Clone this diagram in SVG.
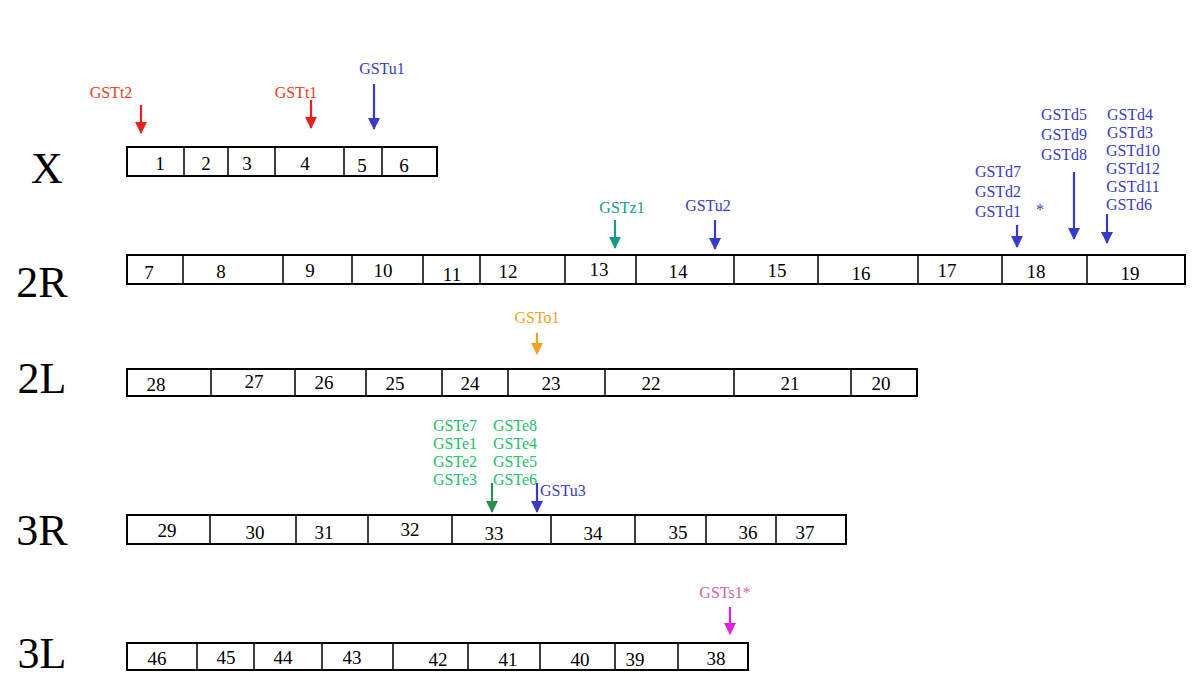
<svg xmlns="http://www.w3.org/2000/svg" width="1200" height="680" viewBox="0 0 1200 680">
<style>
text{font-family:"Liberation Serif","Times New Roman",serif}
.box{fill:#fff;stroke:#000;stroke-width:2}
.dv{stroke:#000;stroke-width:1.5}
.n{font-size:19px;text-anchor:middle}
.row{font-size:44px;text-anchor:middle}
.l{font-size:16px;text-anchor:middle}
.a{stroke-width:2.2;fill:none}
</style>
<defs>
<marker id="m" markerWidth="8" markerHeight="8" refX="5" refY="4" orient="auto" markerUnits="userSpaceOnUse" viewBox="0 0 8 8"><path d="M0,0 L10,4 L0,8 Z" fill="context-stroke"/></marker>
<marker id="mr" markerWidth="12" markerHeight="12" refX="11" refY="6" orient="auto" markerUnits="userSpaceOnUse"><path d="M0,0 L12,6 L0,12 Z" fill="#e82020"/></marker>
<marker id="mb" markerWidth="12" markerHeight="12" refX="11" refY="6" orient="auto" markerUnits="userSpaceOnUse"><path d="M0,0 L12,6 L0,12 Z" fill="#3a3ac8"/></marker>
<marker id="mt" markerWidth="12" markerHeight="12" refX="11" refY="6" orient="auto" markerUnits="userSpaceOnUse"><path d="M0,0 L12,6 L0,12 Z" fill="#129a8e"/></marker>
<marker id="mo" markerWidth="12" markerHeight="12" refX="11" refY="6" orient="auto" markerUnits="userSpaceOnUse"><path d="M0,0 L12,6 L0,12 Z" fill="#f5a020"/></marker>
<marker id="mg" markerWidth="12" markerHeight="12" refX="11" refY="6" orient="auto" markerUnits="userSpaceOnUse"><path d="M0,0 L12,6 L0,12 Z" fill="#2e8b57"/></marker>
<marker id="mp" markerWidth="12" markerHeight="12" refX="11" refY="6" orient="auto" markerUnits="userSpaceOnUse"><path d="M0,0 L12,6 L0,12 Z" fill="#e020e0"/></marker>
</defs>

<g id="row-X">
<text class="row" x="47" y="183">X</text>
<rect class="box" x="127" y="147" width="310" height="29"/>
<path class="dv" d="M184,147V176M228,147V176M275,147V176M344,147V176M382,147V176"/>
<g class="n"><text x="160" y="170">1</text><text x="206" y="170">2</text><text x="247" y="170">3</text><text x="305" y="170">4</text><text x="362" y="172">5</text><text x="404" y="172">6</text></g>
</g>

<g id="row-2R">
<text class="row" x="42" y="297">2R</text>
<rect class="box" x="127" y="255" width="1058" height="29"/>
<path class="dv" d="M183,255V284M283,255V284M352,255V284M423,255V284M480,255V284M565,255V284M636,255V284M734,255V284M818,255V284M918,255V284M1002,255V284M1087,255V284"/>
<g class="n"><text x="149" y="279">7</text><text x="221" y="278">8</text><text x="310" y="277">9</text><text x="383" y="277">10</text><text x="452" y="281">11</text><text x="508" y="278">12</text><text x="599" y="276">13</text><text x="678" y="278">14</text><text x="777" y="277">15</text><text x="861" y="280">16</text><text x="947" y="277">17</text><text x="1036" y="278">18</text><text x="1130" y="280">19</text></g>
</g>

<g id="row-2L">
<text class="row" x="42" y="393">2L</text>
<rect class="box" x="127" y="369" width="790" height="27"/>
<path class="dv" d="M211,369V396M295,369V396M366,369V396M442,369V396M508,369V396M605,369V396M734,369V396M851,369V396"/>
<g class="n"><text x="156" y="391">28</text><text x="254" y="388">27</text><text x="324" y="389">26</text><text x="395" y="390">25</text><text x="470" y="390">24</text><text x="551" y="390">23</text><text x="651" y="390">22</text><text x="790" y="390">21</text><text x="881" y="390">20</text></g>
</g>

<g id="row-3R">
<text class="row" x="42" y="545">3R</text>
<rect class="box" x="127" y="515" width="719" height="29"/>
<path class="dv" d="M210,515V544M296,515V544M368,515V544M452,515V544M551,515V544M635,515V544M706,515V544M776,515V544"/>
<g class="n"><text x="167" y="537">29</text><text x="255" y="539">30</text><text x="324" y="539">31</text><text x="410" y="536">32</text><text x="494" y="540">33</text><text x="593" y="540">34</text><text x="678" y="539">35</text><text x="748" y="539">36</text><text x="805" y="539">37</text></g>
</g>

<g id="row-3L">
<text class="row" x="42" y="668">3L</text>
<rect class="box" x="127" y="643" width="621" height="27"/>
<path class="dv" d="M197,643V670M254,643V670M322,643V670M393,643V670M468,643V670M540,643V670M615,643V670M678,643V670"/>
<g class="n"><text x="157" y="665">46</text><text x="226" y="664">45</text><text x="283" y="664">44</text><text x="352" y="664">43</text><text x="438" y="666">42</text><text x="508" y="666">41</text><text x="580" y="666">40</text><text x="635" y="666">39</text><text x="716" y="665">38</text></g>
</g>

<g id="labels">
<g fill="#e8401c" class="l"><text x="111" y="98">GSTt2</text><text x="296" y="98">GSTt1</text></g>
<g fill="#3a3ac8" class="l">
<text x="382" y="74">GSTu1</text><text x="708" y="211">GSTu2</text>
<text x="998" y="177">GSTd7</text><text x="998" y="197">GSTd2</text><text x="998" y="217">GSTd1</text><text x="1040" y="215">*</text>
<text x="1064" y="120">GSTd5</text><text x="1064" y="140">GSTd9</text><text x="1064" y="160">GSTd8</text>
<text x="1130" y="120">GSTd4</text><text x="1130" y="138">GSTd3</text><text x="1133" y="156">GSTd10</text><text x="1133" y="174">GSTd12</text><text x="1133" y="192">GSTd11</text><text x="1129" y="210">GSTd6</text>
<text x="540" y="496" text-anchor="start">GSTu3</text>
</g>
<text class="l" fill="#129a8e" x="622" y="213">GSTz1</text>
<text class="l" fill="#f5a020" x="537" y="323">GSTo1</text>
<g fill="#22c06a" class="l">
<text x="455" y="431">GSTe7</text><text x="455" y="449">GSTe1</text><text x="455" y="467">GSTe2</text><text x="455" y="485">GSTe3</text>
<text x="515" y="431">GSTe8</text><text x="515" y="449">GSTe4</text><text x="515" y="467">GSTe5</text><text x="515" y="485">GSTe6</text>
</g>
<text class="l" fill="#e060a0" x="725" y="598">GSTs1*</text>
</g>

<g id="connectors" class="a">
<path d="M141,105V133" stroke="#e82020" marker-end="url(#mr)"/>
<path d="M311,100V128" stroke="#e82020" marker-end="url(#mr)"/>
<path d="M374,84V129" stroke="#3a3ac8" marker-end="url(#mb)"/>
<path d="M615,220V248" stroke="#129a8e" marker-end="url(#mt)"/>
<path d="M715,220V249" stroke="#3a3ac8" marker-end="url(#mb)"/>
<path d="M1017,225V247" stroke="#3a3ac8" marker-end="url(#mb)"/>
<path d="M1074,172V239" stroke="#3a3ac8" marker-end="url(#mb)"/>
<path d="M1107,214V243" stroke="#3a3ac8" marker-end="url(#mb)"/>
<path d="M537,333V354" stroke="#f5a020" marker-end="url(#mo)"/>
<path d="M492,483V512" stroke="#2e8b57" marker-end="url(#mg)"/>
<path d="M537,483V512" stroke="#3a3ac8" marker-end="url(#mb)"/>
<path d="M730,607V634" stroke="#e020e0" marker-end="url(#mp)"/>
</g>
</svg>
